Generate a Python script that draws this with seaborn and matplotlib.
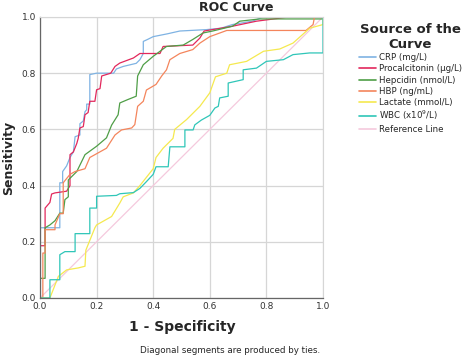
import matplotlib
matplotlib.use("Agg")
import matplotlib.pyplot as plt
import seaborn as sns
import pandas as pd
from matplotlib.lines import Line2D

# ROC curve vertices (1 - specificity, sensitivity)
crp_fpr = [0, 0, 0.07, 0.07, 0.08, 0.08, 0.094, 0.106, 0.118, 0.124, 0.141, 0.141, 0.153, 0.159, 0.165, 0.165,
           0.176, 0.176, 0.2, 0.26, 0.27, 0.294, 0.34, 0.353, 0.365, 0.365, 0.38, 0.4, 0.45, 0.494, 0.588, 0.64,
           0.68, 0.75, 0.79, 1.0]
crp_tpr = [0, 0.25, 0.25, 0.41, 0.41, 0.45, 0.47, 0.50, 0.52, 0.574, 0.58, 0.62, 0.63, 0.663, 0.67, 0.69,
           0.69, 0.795, 0.80, 0.80, 0.815, 0.824, 0.835, 0.848, 0.87, 0.913, 0.92, 0.93, 0.94, 0.95, 0.955, 0.96,
           0.973, 0.985, 1.0, 1.0]

pct_fpr = [0, 0, 0.018, 0.018, 0.035, 0.041, 0.053, 0.094, 0.106, 0.106, 0.118, 0.13, 0.135, 0.141, 0.153,
           0.159, 0.17, 0.176, 0.194, 0.2, 0.212, 0.218, 0.25, 0.265, 0.282, 0.33, 0.353, 0.424, 0.435, 0.54,
           0.565, 0.58, 0.68, 0.765, 0.88, 1.0]
pct_tpr = [0, 0.186, 0.186, 0.32, 0.34, 0.37, 0.374, 0.38, 0.40, 0.51, 0.52, 0.55, 0.568, 0.605, 0.61,
           0.652, 0.66, 0.70, 0.70, 0.741, 0.745, 0.79, 0.80, 0.824, 0.836, 0.854, 0.87, 0.87, 0.895, 0.90,
           0.925, 0.95, 0.967, 0.985, 1.0, 1.0]

hep_fpr = [0, 0, 0.018, 0.018, 0.035, 0.053, 0.07, 0.082, 0.088, 0.1, 0.1, 0.13, 0.159, 0.2, 0.235, 0.253,
           0.276, 0.282, 0.31, 0.34, 0.345, 0.365, 0.4, 0.447, 0.506, 0.54, 0.576, 0.61, 0.68, 0.706, 0.776,
           1.0, 1.0]
hep_tpr = [0, 0.07, 0.07, 0.25, 0.26, 0.275, 0.302, 0.302, 0.35, 0.36, 0.42, 0.45, 0.51, 0.54, 0.57, 0.615,
           0.652, 0.694, 0.706, 0.718, 0.79, 0.83, 0.86, 0.895, 0.90, 0.92, 0.943, 0.95, 0.967, 0.985, 0.993,
           0.993, 1.0]

hbp_fpr = [0, 0.01, 0.01, 0.018, 0.018, 0.053, 0.053, 0.07, 0.082, 0.082, 0.106, 0.124, 0.159, 0.176, 0.194,
           0.235, 0.265, 0.288, 0.324, 0.335, 0.345, 0.365, 0.376, 0.41, 0.43, 0.447, 0.459, 0.494, 0.54, 0.565,
           0.6, 0.66, 0.94, 0.965, 0.97, 1.0]
hbp_tpr = [0, 0, 0.16, 0.16, 0.243, 0.243, 0.26, 0.30, 0.30, 0.41, 0.44, 0.45, 0.46, 0.50, 0.51,
           0.533, 0.58, 0.598, 0.605, 0.617, 0.682, 0.70, 0.74, 0.76, 0.79, 0.812, 0.848, 0.87, 0.884, 0.907,
           0.93, 0.952, 0.952, 0.973, 1.0, 1.0]

lac_fpr = [0, 0.035, 0.065, 0.094, 0.135, 0.159, 0.162, 0.194, 0.2, 0.253, 0.282, 0.294, 0.33, 0.353, 0.4,
           0.41, 0.435, 0.47, 0.476, 0.518, 0.565, 0.6, 0.62, 0.66, 0.67, 0.73, 0.79, 0.847, 0.894, 0.953,
           1.0, 1.0]
lac_tpr = [0, 0.0, 0.077, 0.10, 0.107, 0.113, 0.17, 0.25, 0.26, 0.29, 0.338, 0.36, 0.374, 0.40, 0.46,
           0.50, 0.533, 0.568, 0.60, 0.635, 0.682, 0.73, 0.787, 0.80, 0.83, 0.842, 0.878, 0.886, 0.907, 0.96,
           0.973, 1.0]

wbc_fpr = [0, 0.035, 0.035, 0.07, 0.07, 0.088, 0.124, 0.124, 0.176, 0.176, 0.2, 0.2, 0.27, 0.282, 0.33,
           0.353, 0.376, 0.4, 0.41, 0.453, 0.459, 0.512, 0.512, 0.541, 0.547, 0.57, 0.6, 0.618, 0.63, 0.635,
           0.665, 0.665, 0.718, 0.718, 0.765, 0.8, 0.86, 0.894, 0.953, 1.0, 1.0]
wbc_tpr = [0, 0, 0.065, 0.065, 0.154, 0.165, 0.165, 0.229, 0.229, 0.32, 0.32, 0.362, 0.365, 0.371, 0.375,
           0.39, 0.414, 0.44, 0.467, 0.467, 0.538, 0.538, 0.598, 0.598, 0.616, 0.633, 0.65, 0.676, 0.682, 0.712,
           0.718, 0.765, 0.777, 0.812, 0.818, 0.842, 0.848, 0.866, 0.872, 0.872, 1.0]

ref_fpr = [0, 1]
ref_tpr = [0, 1]

labels = ["CRP (mg/L)", "Procalcitonin (\u03bcg/L)", "Hepcidin (nmol/L)", "HBP (ng/mL)",
          "Lactate (mmol/L)", "WBC (x10$^9$/L)", "Reference Line"]
colors = ["#7fb3e3", "#e2285c", "#4f9e47", "#f4855c", "#f5e94f", "#2fc6b8", "#f5c9dd"]

curves = [(crp_fpr, crp_tpr), (pct_fpr, pct_tpr), (hep_fpr, hep_tpr), (hbp_fpr, hbp_tpr),
          (lac_fpr, lac_tpr), (wbc_fpr, wbc_tpr), (ref_fpr, ref_tpr)]

rows = []
for lab, (xs, ys) in zip(labels, curves):
    for x, y in zip(xs, ys):
        rows.append({"fpr": x, "tpr": y, "source": lab})
df = pd.DataFrame(rows)

sns.set_style("white")
plt.rcParams["font.family"] = ["DejaVu Sans"]

fig = plt.figure(figsize=(4.74, 3.58), dpi=100)
ax = fig.add_axes([0.0844, 0.1676, 0.597, 0.785])

# reference line drawn first so the curves sit on top
order = labels[-1:] + labels[:-1]
for lab in order:
    sub = df[df["source"] == lab]
    sns.lineplot(data=sub, x="fpr", y="tpr", sort=False, estimator=None, ax=ax,
                 color=colors[labels.index(lab)], linewidth=0.9, legend=False)

ax.set_xlim(0, 1)
ax.set_ylim(0, 1)
ticks = [0.0, 0.2, 0.4, 0.6, 0.8, 1.0]
ax.set_xticks(ticks)
ax.set_yticks(ticks)
ax.set_xticklabels([f"{t:.1f}" for t in ticks])
ax.set_yticklabels([f"{t:.1f}" for t in ticks])
ax.tick_params(length=0, labelsize=6.5, colors="#333333", pad=3)
ax.grid(True, color="#d6d6d6", linewidth=0.9)
ax.set_axisbelow(True)
for side in ["top", "right"]:
    ax.spines[side].set_color("#d6d6d6")
for side in ["left", "bottom"]:
    ax.spines[side].set_color("#666666")
    ax.spines[side].set_linewidth(0.9)

ax.set_xlabel("")
ax.set_ylabel("")
fig.text(0.385, 0.086, "1 - Specificity", ha="center", va="center", fontsize=10, fontweight="bold")
fig.text(0.018, 0.56, "Sensitivity", ha="center", va="center", rotation=90, fontsize=9, fontweight="bold")
fig.text(0.498, 0.979, "ROC Curve", ha="center", va="center", fontsize=9, fontweight="bold")
fig.text(0.295, 0.022, "Diagonal segments are produced by ties.", ha="left", va="center", fontsize=6.3)

handles = [Line2D([0], [0], color=c, linewidth=1.2) for c in colors]
leg = fig.legend(handles, labels, loc="upper left", bbox_to_anchor=(0.75, 0.945), frameon=False,
                 title="Source of the\nCurve", title_fontproperties={"weight": "bold", "size": 9.5},
                 fontsize=6.2, handlelength=2.0, handletextpad=0.3, labelspacing=0.25, borderaxespad=0)
leg._legend_box.align = "center"
leg.get_title().set_multialignment("center")

fig.savefig("out.png", dpi=100)
